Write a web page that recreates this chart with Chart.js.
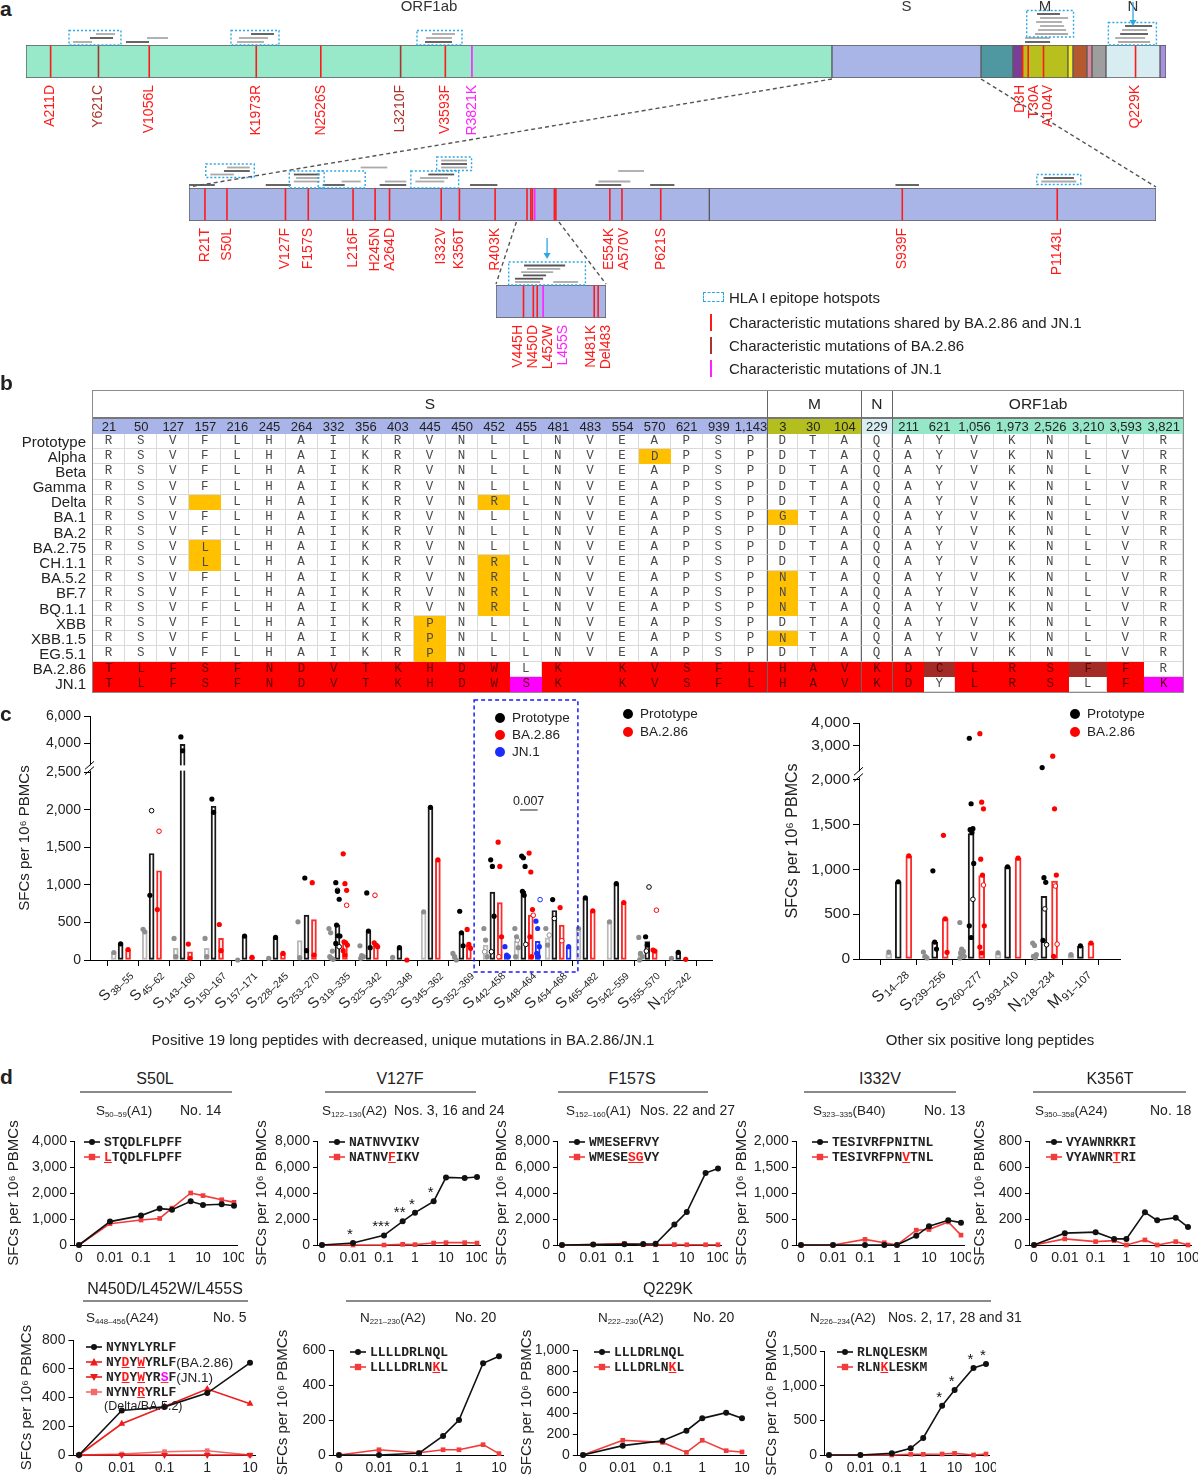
<!DOCTYPE html>
<html>
<head>
<meta charset="utf-8">
<script src="https://cdn.jsdelivr.net/npm/chart.js@4.4.1/dist/chart.umd.min.js"></script>
<style>
html,body{margin:0;padding:0;background:#fff;}
body{width:1200px;height:1476px;position:relative;overflow:hidden;font-family:"Liberation Sans","DejaVu Sans",Arial,sans-serif;color:#222;}
canvas{position:absolute;}
.t{position:absolute;white-space:nowrap;line-height:1.1;}
.pl{font-weight:bold;font-size:21px;}
.mono{font-family:"Liberation Mono","DejaVu Sans Mono",monospace;font-weight:bold;}
sub{font-size:0.58em;vertical-align:-0.3em;line-height:0;}
.cell{box-sizing:border-box;display:flex;align-items:center;justify-content:center;border-right:1px solid #dadada;border-bottom:1px solid #dadada;overflow:hidden;}
</style>
</head>
<body>
<script>
// ======================= DATA =======================
// ---- Panel a : genome schematic ----
const genomeGenes = ['ORF1ab','S','ORF3a','E','M','ORF6','ORF7','ORF8a','ORF8','N','ORF10'];
const genomeStart = [0,6906,8183,8457,8534,8928,8971,9091,9134,9254,9717];
const genomeEnd   = [6906,8183,8457,8534,8928,8971,9091,9134,9254,9717,9768];
const geneAaLength = {ORF1ab:6906, M:222, N:419};
const labelledGenes = ['ORF1ab','S','M','N'];

const topMutGene  = ['ORF1ab','ORF1ab','ORF1ab','ORF1ab','ORF1ab','ORF1ab','ORF1ab','ORF1ab','M','M','M','N'];
const topMutPos   = [211,621,1056,1973,2526,3210,3593,3821,3,30,104,229];
const topMutName  = ['A211D','Y621C','V1056L','K1973R','N2526S','L3210F','V3593F','R3821K','D3H','T30A','A104V','Q229K'];
const topMutClass = ['shared','ba286','shared','shared','shared','ba286','shared','jn1','shared','shared','shared','shared'];

const topEpitopes = [
 [403,566,0,'g'],[548,746,1,'d'],[600,763,2,'g'],[857,1054,0,'d'],[1037,1217,1,'g'],
 [1808,2039,0,'g'],[1825,2074,1,'g'],[1928,2125,2,'d'],
 [3419,3650,0,'d'],[3428,3650,1,'g'],[3479,3676,2,'g'],
 [8560,8775,0,'d'],[8560,8775,1,'g'],
 [8646,8929,2,'g'],[8672,8912,3,'g'],[8689,8895,4,'g'],[8655,8877,5,'g'],[8689,8929,6,'g'],[8663,8860,7,'d'],
 [9357,9631,0,'g'],[9332,9589,1,'g'],[9375,9614,2,'d'],[9392,9606,3,'g'],[9417,9649,4,'d']
];
const topHotspots = [[394,788,0,2],[1782,2142,0,2],[3376,3710,0,2],[8600,8950,2,7],[9300,9660,0,4]];

const spikeDomainStart = [0,685];
const spikeDomainEnd   = [685,1273];
const spikeMutPos   = [21,50,127,157,216,245,264,332,356,403,445,450,452,455,481,483,554,570,621,939,1143];
const spikeMutName  = ['R21T','S50L','V127F','F157S','L216F','H245N','A264D','I332V','K356T','R403K','V445H','N450D','L452W','L455S','N481K','Del483','E554K','A570V','P621S','S939F','P1143L'];
const spikeMutClass = ['shared','shared','shared','shared','shared','shared','shared','shared','shared','shared','shared','shared','shared','jn1','shared','shared','shared','shared','shared','shared','shared'];
const rbdWindow = [431,487];
const spikeEpitopes = [
 [0,34,0,'d'],[28,59,3,'g'],[46,80,4,'d'],[50,80,5,'g'],[101,134,0,'d'],
 [138,172,1,'g'],[141,172,2,'g'],[138,172,3,'d'],[176,205,0,'d'],[201,226,1,'g'],[226,261,5,'g'],
 [251,286,0,'d'],[258,286,1,'g'],[298,336,1,'g'],[304,341,2,'g'],[315,349,3,'d'],
 [332,366,5,'g'],[332,366,6,'d'],[332,366,7,'g'],[370,406,0,'d'],
 [535,569,0,'d'],[539,581,1,'g'],[565,599,4,'g'],[607,639,0,'d'],[930,961,0,'d'],
 [1122,1168,1,'g'],[1125,1165,2,'d']
];
const spikeHotspots = [[26,82,3,5],[136,174,0,3],[174,228,0,3],[296,351,0,3],[330,368,5,7],[1120,1170,1,2]];
const rbdEpitopes = [[440.7,453.4,0,'g'],[460.1,472.8,0,'g'],[440.7,455,1,'d'],[444.8,456.5,2,'d'],[443.8,460.1,3,'g'],[446.8,463.7,4,'g'],[445.3,466.2,5,'d']];
const rbdHotspots = [[439,475,0,5]];

// ---- Panel b : residue table ----
const tablePosS = [21,50,127,157,216,245,264,332,356,403,445,450,452,455,481,483,554,570,621,939,1143];
const tablePosM = [3,30,104];
const tablePosN = [229];
const tablePosORF1ab = [211,621,1056,1973,2526,3210,3593,3821];
const variantNames = ['Prototype','Alpha','Beta','Gamma','Delta','BA.1','BA.2','BA.2.75','CH.1.1','BA.5.2','BF.7','BQ.1.1','XBB','XBB.1.5','EG.5.1','BA.2.86','JN.1'];
const variantResidues = [
 'RSVFLHAIKRVNLLNVEAPSP DTA Q AYVKNLVR',
 'RSVFLHAIKRVNLLNVEDPSP DTA Q AYVKNLVR',
 'RSVFLHAIKRVNLLNVEAPSP DTA Q AYVKNLVR',
 'RSVFLHAIKRVNLLNVEAPSP DTA Q AYVKNLVR',
 'RSV-LHAIKRVNRLNVEAPSP DTA Q AYVKNLVR',
 'RSVFLHAIKRVNLLNVEAPSP GTA Q AYVKNLVR',
 'RSVFLHAIKRVNLLNVEAPSP DTA Q AYVKNLVR',
 'RSVLLHAIKRVNLLNVEAPSP DTA Q AYVKNLVR',
 'RSVLLHAIKRVNRLNVEAPSP DTA Q AYVKNLVR',
 'RSVFLHAIKRVNRLNVEAPSP NTA Q AYVKNLVR',
 'RSVFLHAIKRVNRLNVEAPSP NTA Q AYVKNLVR',
 'RSVFLHAIKRVNRLNVEAPSP NTA Q AYVKNLVR',
 'RSVFLHAIKRPNLLNVEAPSP DTA Q AYVKNLVR',
 'RSVFLHAIKRPNLLNVEAPSP NTA Q AYVKNLVR',
 'RSVFLHAIKRPNLLNVEAPSP DTA Q AYVKNLVR',
 'TLFSFNDVTKHDWLK-KVSFL HAV K DCLRSFFR',
 'TLFSFNDVTKHDWSK-KVSFL HAV K DYLRSLFK'
];

// ---- Panel c : ELISpot long peptides ----
const cLeftPeptides = ['S38–55','S45–62','S143–160','S150–167','S157–171','S228–245','S253–270','S319–335','S325–342','S332–348','S345–362','S352–369','S442–458','S448–464','S454–468','S465–482','S542–559','S555–570','N225–242'];
const cLeftNegBar   = [100,380,155,155,0,20,260,50,40,10,640,40,200,250,295,420,510,90,20];
const cLeftNegDots  = [[100],[410,376],[288,44],[288,44],[0],[22],[509,31],[420,363,119,44,22,9],[190,57,44,22],[35],[642],[88,44,0],[420,265,44],[420,310,164,44],[420,199],[420],[509],[301,88,44,0],[22]];
const cLeftNegOpen  = [[],[],[],[],[],[],[],[],[],[],[],[],[110],[265],[332],[],[],[],[]];
const cLeftProtoBar = [215,1420,3900,2050,320,300,600,470,385,165,2035,365,905,915,660,825,1020,245,100];
const cLeftProtoDots= [[215],[863],[4450,3425],[2146,1969],[319],[301],[1093,124],[1031,916,810,465,323,319,221],[894,385,164],[164],[2035],[650,363,190],[1336,1248,584],[1385,1363,1248,916,863],[805],[827],[1018],[310,199],[102]];
const cLeftProtoOpen= [[],[1991],[],[],[],[],[],[929,177],[],[],[],[],[110],[208],[553],[],[],[973,119],[]];
const cLeftBA286Bar = [140,1190,110,290,35,90,540,240,220,0,1335,200,765,600,465,655,765,135,0];
const cLeftBA286Dots= [[140],[672],[212,22],[473,124],[35],[88],[1031,66],[1416,1018,929,243,230,199,124,66],[230,199,177],[0],[1336],[407,208,155],[1571,1248,310],[1425,1173,672,310,44],[699],[655],[765],[133,119],[9]];
const cLeftBA286Open= [[],[1717],[],[],[],[],[],[730],[863],[],[],[],[44],[597],[257],[],[],[664],[]];
const cLeftJN1Bar   = [null,null,null,null,null,null,null,null,null,null,null,null,66,250,177,null,null,null,null];
const cLeftJN1Dots  = [null,null,null,null,null,null,null,null,null,null,null,null,[177,66,44],[518,420,177,88,44],[177],null,null,null,null];
const cLeftJN1Open  = [null,null,null,null,null,null,null,null,null,null,null,null,[],[805],[],null,null,null,null];
const cLeftYTicks   = [0,500,1000,1500,2000,2500,4000,6000];
const cLeftPValue   = {group:13, text:'0.007', y:2000};

const cRightPeptides = ['S14–28','S239–256','S260–277','S393–410','N218–234','M91–107'];
const cRightNegBar   = [60,37,95,60,50,48];
const cRightNegDots  = [[78],[78,30,11],[407,111,85,67,48,30,11],[70],[178,152,48,30,11],[48]];
const cRightNegOpen  = [[],[],[],[],[],[]];
const cRightProtoBar = [862,185,1400,1029,700,140];
const cRightProtoDots= [[862],[984,189,111],[3333,1732,1454,1443,1410,1066,370,240],[1029],[2050,907,855,207],[147]];
const cRightProtoOpen= [[],[],[666],[],[559,159],[]];
const cRightBA286Bar = [1150,450,930,1125,870,178];
const cRightBA286Dots= [[1150],[1380,448,74],[3533,1750,1676,1114,936,370,133,67],[1125],[2550,1676,936,30],[178]];
const cRightBA286Open= [[],[],[825],[],[814,166],[]];
const cRightYTicks   = [0,500,1000,1500,2000,3000,4000];

// ---- Panel d : dose–response ----
const dConc9 = [0,0.01,0.1,0.4,1,4,10,40,100];
const dConc7 = [0,0.01,0.1,0.4,1,4,10];
const dConc5 = [0,0.01,0.1,1,10];
const dTicks6 = ['0','0.01','0.1','1','10','100'];
const dTicks5 = ['0','0.01','0.1','1','10'];
const d1Wt = [0,900,1130,1400,1360,1680,1540,1570,1510];
const d1Mut= [0,820,960,1020,1420,2000,1900,1740,1640];
const d2Wt = [0,150,740,1820,2490,3360,5200,5150,5230];
const d2Mut= [0,0,0,50,30,150,180,180,150];
const d2Stars = ['','*','***','**','*','*','','',''];
const d3Wt = [0,30,50,80,100,1570,2540,5530,5890];
const d3Mut= [0,30,110,20,20,30,20,20,20];
const d4Wt = [0,0,0,0,0,177,361,475,430];
const d4Mut= [0,0,108,44,0,285,298,443,190];
const d5Wt = [0,91,99,47,47,252,190,210,138];
const d5Mut= [0,47,26,34,0,39,0,26,0];
const d6Wt = [0,310,335,431,641];
const d6BA286 = [0,217,338,459,356];
const d6JN1 = [0,0,0,0,0];
const d6Delta = [0,7,23,30,0];
const d7Wt = [0,0,10,109,200,524,564];
const d7Mut= [0,30,13,30,30,59,8];
const d8Wt = [0,89,136,231,349,403,349];
const d8Mut= [0,140,120,25,140,41,29];
const d9Wt = [0,0,24,96,245,712,938,1255,1313];
const d9Mut= [0,0,0,10,10,14,24,0,14];
const d9Stars = ['','','','','','*','*','*','*'];
const dPeptides = [
 ['STQDLFLPFF','LTQDLFLPFF'],['NATNVVIKV','NATNVFIKV'],['WMESEFRVY','WMESESGVY'],
 ['TESIVRFPNITNL','TESIVRFPNVTNL'],['VYAWNRKRI','VYAWNRTRI'],
 ['NYNYLYRLF','NYDYWYRLF','NYDYWYRSF','NYNYRYRLF'],
 ['LLLLDRLNQL','LLLLDRLNKL'],['LLLDRLNQL','LLLDRLNKL'],['RLNQLESKM','RLNKLESKM']
];
const d6Suffix = ['','(BA.2.86)','(JN.1)',''];
const dTitles = ['S50L','V127F','F157S','I332V','K356T','N450D/L452W/L455S','Q229K'];
const dEpitopes = [['S','50–59','A1'],['S','122–130','A2'],['S','152–160','A1'],['S','323–335','B40'],['S','350–358','A24'],['S','448–456','A24'],['N','221–230','A2'],['N','222–230','A2'],['N','226–234','A2']];
const dDonors = ['No. 14','Nos. 3, 16 and 24','Nos. 22 and 27','No. 13','No. 18','No. 5','No. 20','No. 20','Nos. 2, 17, 28 and 31'];

// ======================= HELPERS =======================
const FONT = '"Liberation Sans","DejaVu Sans",Arial,sans-serif';
Chart.defaults.font.family = FONT;
Chart.defaults.font.size = 14;
Chart.defaults.color = '#222';
Chart.defaults.animation = false;
Chart.defaults.responsive = false;
Chart.defaults.maintainAspectRatio = false;
Chart.defaults.events = [];
Chart.defaults.plugins.legend.display = false;
Chart.defaults.plugins.tooltip.enabled = false;

function mkCanvas(l,t,w,h){const c=document.createElement('canvas');c.width=w;c.height=h;c.style.left=l+'px';c.style.top=t+'px';c.style.width=w+'px';c.style.height=h+'px';document.body.appendChild(c);return c;}
function txt(x,y,html,css,align){const d=document.createElement('div');d.className='t';d.innerHTML=html;if(css)d.style.cssText+=css;d.style.left=x+'px';d.style.top=y+'px';d.style.transform=align==='c'?'translate(-50%,-50%)':align==='r'?'translate(-100%,-50%)':'translate(0,-50%)';document.body.appendChild(d);return d;}
function box(x,y,w,h,css){const d=document.createElement('div');d.style.cssText='position:absolute;left:'+x+'px;top:'+y+'px;width:'+w+'px;height:'+h+'px;box-sizing:border-box;'+(css||'');document.body.appendChild(d);return d;}

const GENOME_COLORS = ['#97e9c9','#aab5e7','#4f98a1','#7b3d98','#b7c01d','#f3ee2c','#b55a2f','#d98aa0','#9e9e9e','#d7edf1','#a690e0'];
const MUT_COLOR = {shared:'#ff1a1a', ba286:'#a9362e', jn1:'#ff22ff'};
const HOT = '#2aa8e3';

function geneUnit(g,p){const i=genomeGenes.indexOf(g);const s=genomeStart[i];return s+p*(genomeEnd[i]-s)/geneAaLength[g];}
function spreadLabels(xs,gap){
  const order=xs.map((_,i)=>i).sort((a,b)=>xs[a]-xs[b]);
  const out=[];const clusters=[];let cur=null;let prev=-1e9;
  order.forEach(i=>{const x=xs[i];let p;if(x>=prev+gap){cur=[];clusters.push(cur);p=x;}else p=prev+gap;cur.push([i,p]);prev=p;});
  clusters.forEach(c=>{const lm=c.reduce((a,e)=>a+e[1],0)/c.length;const xm=c.reduce((a,e)=>a+xs[e[0]],0)/c.length;const sh=(xm-lm)/2;c.forEach(e=>out[e[0]]=e[1]+sh);});
  return out;
}
function drawEpitopes(ctx,xs,yBase,list,rowH,hots){
  ctx.save();ctx.lineWidth=1.8;
  list.forEach(([s,e,r,sh])=>{const y=yBase-3-r*rowH;ctx.strokeStyle=sh==='d'?'#555':'#aaa';ctx.beginPath();ctx.moveTo(xs.getPixelForValue(s),y);ctx.lineTo(xs.getPixelForValue(e),y);ctx.stroke();});
  ctx.setLineDash([2,2]);ctx.strokeStyle=HOT;ctx.lineWidth=1.4;
  hots.forEach(([s,e,r0,r1])=>{const x1=xs.getPixelForValue(s)-3,x2=xs.getPixelForValue(e)+3;const yT=yBase-3-r1*rowH-3.5,yB=yBase-3-r0*rowH+3;ctx.strokeRect(x1,yT,x2-x1,yB-yT);});
  ctx.restore();
}
function arrowDown(ctx,x,y1,y2,color){ctx.save();ctx.strokeStyle=color;ctx.fillStyle=color;ctx.lineWidth=1.3;ctx.beginPath();ctx.moveTo(x,y1);ctx.lineTo(x,y2-5);ctx.stroke();ctx.beginPath();ctx.moveTo(x-3.5,y2-6);ctx.lineTo(x+3.5,y2-6);ctx.lineTo(x,y2);ctx.closePath();ctx.fill();ctx.restore();}
function mutLines(ctx,xs,ca,cls){ctx.save();ctx.lineWidth=1.6;xs.forEach((px,i)=>{ctx.strokeStyle=MUT_COLOR[cls[i]];ctx.beginPath();ctx.moveTo(px,ca.top+0.5);ctx.lineTo(px,ca.bottom-0.5);ctx.stroke();});ctx.restore();}
function mutLabels(ctx,xs,y,names,cls,gap){const lx=spreadLabels(xs,gap);ctx.save();ctx.font='14px '+FONT;ctx.textAlign='right';ctx.textBaseline='middle';lx.forEach((px,i)=>{ctx.save();ctx.translate(px,y);ctx.rotate(-Math.PI/2);ctx.fillStyle=MUT_COLOR[cls[i]];ctx.fillText(names[i],0,0);ctx.restore();});ctx.restore();}
function connector(ctx,x1,y1,x2,y2){ctx.save();ctx.strokeStyle='#555';ctx.lineWidth=1.4;ctx.setLineDash([4,3]);ctx.beginPath();ctx.moveTo(x1,y1);ctx.lineTo(x2,y2);ctx.stroke();ctx.restore();}

// ======================= PANEL a =======================
txt(0,9,'a','','l').className='t pl';
const genomePlugin={id:'genome',afterDatasetsDraw(chart){
  const {ctx,chartArea:ca,scales:{x}}=chart;
  const xs=topMutPos.map((p,i)=>x.getPixelForValue(geneUnit(topMutGene[i],p)));
  mutLines(ctx,xs,ca,topMutClass);
  mutLabels(ctx,xs,ca.bottom+7,topMutName,topMutClass,14);
  ctx.save();ctx.font='15px '+FONT;ctx.fillStyle='#333';ctx.textAlign='center';ctx.textBaseline='middle';
  labelledGenes.forEach(g=>{const i=genomeGenes.indexOf(g);ctx.fillText(g,x.getPixelForValue((genomeStart[i]+genomeEnd[i])/2),ca.top-38);});
  ctx.restore();
  drawEpitopes(ctx,x,ca.top,topEpitopes,4,topHotspots);
  const ni=genomeGenes.indexOf('N');
  arrowDown(ctx,x.getPixelForValue((genomeStart[ni]+genomeEnd[ni])/2),ca.top-43,ca.top-19,HOT);
}};
const chartA1=new Chart(mkCanvas(0,0,1200,140),{type:'bar',
  data:{labels:['genome'],datasets:[{data:genomeGenes.map((g,i)=>({x:[genomeStart[i],genomeEnd[i]],y:'genome'})),backgroundColor:GENOME_COLORS,borderColor:'#5a5a5a',borderWidth:1,borderSkipped:false,barPercentage:1,categoryPercentage:1}]},
  options:{indexAxis:'y',layout:{padding:{left:26,right:34,top:45,bottom:62}},scales:{x:{type:'linear',min:genomeStart[0],max:genomeEnd[genomeEnd.length-1],display:false},y:{type:'category',display:false}}},
  plugins:[genomePlugin]});

const spikePlugin={id:'spike',afterDatasetsDraw(chart){
  const {ctx,chartArea:ca,scales:{x}}=chart;
  const xs=spikeMutPos.map(p=>x.getPixelForValue(p));
  mutLines(ctx,xs,ca,spikeMutClass);
  const keep=spikeMutPos.map((p,i)=>i).filter(i=>spikeMutPos[i]<rbdWindow[0]||spikeMutPos[i]>rbdWindow[1]);
  mutLabels(ctx,keep.map(i=>xs[i]),ca.bottom+7,keep.map(i=>spikeMutName[i]),keep.map(i=>spikeMutClass[i]),15);
  drawEpitopes(ctx,x,ca.top,spikeEpitopes,3.5,spikeHotspots);
  const si=genomeGenes.indexOf('S');const gx=chartA1.scales.x;
  connector(ctx,gx.getPixelForValue(genomeStart[si]),chartA1.chartArea.bottom+1,ca.left,ca.top-1);
  connector(ctx,gx.getPixelForValue(genomeEnd[si]),chartA1.chartArea.bottom+1,ca.right,ca.top-1);
}};
const chartA2=new Chart(mkCanvas(0,0,1200,300),{type:'bar',
  data:{labels:['S'],datasets:[{data:spikeDomainStart.map((s,i)=>({x:[s,spikeDomainEnd[i]],y:'S'})),backgroundColor:'#aab5e7',borderColor:'#5a5a5a',borderWidth:1,borderSkipped:false,barPercentage:1,categoryPercentage:1}]},
  options:{indexAxis:'y',layout:{padding:{left:189,right:44,top:188,bottom:79}},scales:{x:{type:'linear',min:0,max:spikeDomainEnd[1],display:false},y:{type:'category',display:false}}},
  plugins:[spikePlugin]});

const rbdPlugin={id:'rbd',afterDatasetsDraw(chart){
  const {ctx,chartArea:ca,scales:{x}}=chart;
  const idx=spikeMutPos.map((p,i)=>i).filter(i=>spikeMutPos[i]>=rbdWindow[0]&&spikeMutPos[i]<=rbdWindow[1]);
  const xs=idx.map(i=>x.getPixelForValue(spikeMutPos[i]));
  mutLines(ctx,xs,ca,idx.map(i=>spikeMutClass[i]));
  mutLabels(ctx,xs,ca.bottom+7,idx.map(i=>spikeMutName[i]),idx.map(i=>spikeMutClass[i]),15);
  drawEpitopes(ctx,x,ca.top,rbdEpitopes,3.3,rbdHotspots);
  const sx=chartA2.scales.x;
  connector(ctx,sx.getPixelForValue(rbdWindow[0]),chartA2.chartArea.bottom+1,ca.left,ca.top-1);
  connector(ctx,sx.getPixelForValue(rbdWindow[1]),chartA2.chartArea.bottom+1,ca.right,ca.top-1);
  arrowDown(ctx,x.getPixelForValue((rbdHotspots[0][0]+rbdHotspots[0][1])/2),ca.top-47,ca.top-26,HOT);
}};
const chartA3=new Chart(mkCanvas(0,0,1200,395),{type:'bar',
  data:{labels:['RBD'],datasets:[{data:[{x:[rbdWindow[0],rbdWindow[1]],y:'RBD'}],backgroundColor:'#aab5e7',borderColor:'#5a5a5a',borderWidth:1,borderSkipped:false,barPercentage:1,categoryPercentage:1}]},
  options:{indexAxis:'y',layout:{padding:{left:496,right:594,top:285,bottom:77}},scales:{x:{type:'linear',min:rbdWindow[0],max:rbdWindow[1],display:false},y:{type:'category',display:false}}},
  plugins:[rbdPlugin]});

// panel a legend
box(703,292,21,10,'border:1.5px dashed '+HOT+';');
txt(729,298,'HLA I epitope hotspots','font-size:15px;');
box(710,314,2,17,'background:'+MUT_COLOR.shared+';');
txt(729,323,'Characteristic mutations shared by BA.2.86 and JN.1','font-size:15px;');
box(710,337,2,17,'background:'+MUT_COLOR.ba286+';');
txt(729,346,'Characteristic mutations of BA.2.86','font-size:15px;');
box(710,360,2,17,'background:'+MUT_COLOR.jn1+';');
txt(729,369,'Characteristic mutations of JN.1','font-size:15px;');

// ======================= PANEL b =======================
txt(0,383,'b','','l').className='t pl';
(function(){
  const genesT=[['S',tablePosS],['M',tablePosM],['N',tablePosN],['ORF1ab',tablePosORF1ab]];
  const headColor={S:'#a9b4e8',M:'#b4be1e',N:'#d8eef2',ORF1ab:'#96e7c7'};
  const widthOf={S:[32.1],M:[30.6,31.4,31.8],N:[31.4],ORF1ab:[31.8,31.4,38.3,37.5,38.3,37.5,37.5,38.7]};
  const colGene=[],colPos=[],colW=[];
  genesT.forEach(([g,ps])=>ps.forEach((p,k)=>{colGene.push(g);colPos.push(p);colW.push(widthOf[g][Math.min(k,widthOf[g].length-1)]);}));
  const first=colGene.map((g,i)=>i===0||colGene[i-1]!==g);
  const res=variantResidues.map(s=>s.replace(/ /g,'').split(''));
  const proto=res[0];const iB=variantNames.indexOf('BA.2.86'),iJ=variantNames.indexOf('JN.1');
  function bg(r,c){const v=res[r][c];if(r===iB||r===iJ){if(v===proto[c])return '#fff';const o=res[r===iB?iJ:iB][c];if(v!==o)return r===iB?'#a32b25':'#ff00ff';return '#ff0000';}return v!==proto[c]?'#ffc000':'#fff';}
  const g=document.createElement('div');
  g.style.cssText='position:absolute;left:92px;top:390px;display:grid;grid-template-columns:'+colW.map(w=>w+'px').join(' ')+';grid-template-rows:28px 15px repeat('+res.length+',15.176px);border:1px solid #8c8c8c;';
  const sep='1.5px solid #666';
  genesT.forEach(([gn,ps],k)=>{const d=document.createElement('div');d.className='cell';d.style.gridColumn='span '+ps.length;d.style.fontSize='15.5px';d.style.borderBottom='2px solid #777';d.style.borderRight='none';if(k>0)d.style.borderLeft=sep;d.textContent=gn;g.appendChild(d);});
  colPos.forEach((p,c)=>{const d=document.createElement('div');d.className='cell';d.style.background=headColor[colGene[c]];d.style.fontSize='13px';d.style.borderRight='none';d.style.borderBottom='none';if(first[c]&&c>0)d.style.borderLeft=sep;d.textContent=p.toLocaleString('en-US');g.appendChild(d);});
  res.forEach((row,r)=>row.forEach((v,c)=>{const d=document.createElement('div');d.className='cell';const b=bg(r,c);d.style.background=b;d.style.fontFamily='"Liberation Mono","DejaVu Sans Mono",monospace';d.style.fontSize='12.5px';d.style.color=(b==='#fff'||b==='#ffc000')?'#4a4a4a':'#5a0000';if(first[c]&&c>0)d.style.borderLeft=sep;if(b!=='#fff'){d.style.borderRight='none';d.style.borderBottom='none';}d.textContent=v==='-'?'':v;g.appendChild(d);}));
  document.body.appendChild(g);
  variantNames.forEach((n,r)=>txt(86,391+28+15+15.176*(r+0.5),n,'font-size:15px;','r'));
})();

// ======================= PANEL c =======================
txt(0,714,'c','','l').className='t pl';
function makeBreak(B,gap,k){return v=>v<=B?v:B+gap+(v-B)*k;}
const tfL=makeBreak(2500,123,0.18), tfR=makeBreak(2000,123,0.255);
const cStyle={neg:{bar:'#b9b9b9',dot:'#8e8e8e'},proto:{bar:'#1a1a1a',dot:'#000'},ba286:{bar:'#ff2a2a',dot:'#ff0000'},jn1:{bar:'#2233ff',dot:'#1b2cff'}};
function jit(k,n){if(n<=1)return 0;return ((k%3)-1)*0.055+((Math.floor(k/3)%2)?0.025:0);}
function groupSets(bars,dots,opens,off,st,tf,barW,jw){
  const out=[];
  out.push({type:'bar',data:bars.map((v,i)=>v==null?null:{x:i+off,y:tf(v)}).filter(d=>d),backgroundColor:'rgba(255,255,255,0)',borderColor:st.bar,borderWidth:1.3,borderSkipped:false,barThickness:barW,grouped:false,order:3});
  const f=[],h=[];
  dots.forEach((arr,i)=>{if(!arr)return;const op=(opens[i]||[]);const n=arr.length+op.length;arr.forEach((v,k)=>f.push({x:i+off+jit(k,n)*jw,y:tf(v)}));op.forEach((v,k)=>h.push({x:i+off+jit(k+arr.length,n)*jw,y:tf(v)}));});
  out.push({type:'scatter',data:f,pointRadius:2.6,pointBackgroundColor:st.dot,pointBorderColor:st.dot,pointBorderWidth:0,order:1,clip:false});
  out.push({type:'scatter',data:h,pointRadius:2.3,pointBackgroundColor:'#fff',pointBorderColor:st.dot,pointBorderWidth:1,order:1,clip:false});
  return out;
}
function subLabels(chart,names,fMain,fSub,dx,dy){
  const {ctx,scales:{x},chartArea:ca}=chart;
  names.forEach((nm,i)=>{const m=nm.match(/^([A-Z])(.*)$/);const px=x.getPixelForValue(i);
    ctx.save();ctx.translate(px+dx,ca.bottom+dy);ctx.rotate(-Math.PI/4);ctx.fillStyle='#222';ctx.textBaseline='alphabetic';
    ctx.font=fMain;const w1=ctx.measureText(m[1]).width;ctx.font=fSub;const w2=ctx.measureText(m[2]).width;
    ctx.font=fMain;ctx.fillText(m[1],-w1-w2-1,5);ctx.font=fSub;ctx.fillText(m[2],-w2,8);ctx.restore();});
}
function breakMark(chart,tf,B){
  const {ctx,chartArea:ca,scales:{y}}=chart;
  const y1=y.getPixelForValue(B+25),y2=y.getPixelForValue(B+95);
  ctx.save();ctx.fillStyle='#fff';ctx.fillRect(ca.left-3,y2,ca.right-ca.left+3,y1-y2);
  ctx.strokeStyle='#000';ctx.lineWidth=1;
  [y1,y2].forEach(yy=>{ctx.beginPath();ctx.moveTo(ca.left-5,yy+4);ctx.lineTo(ca.left+4,yy-4);ctx.stroke();});
  ctx.restore();
}
function cScales(o){
  return {
    x:{type:'linear',min:o.xmin,max:o.xmax,afterBuildTicks:s=>{s.ticks=o.names.map((_,i)=>({value:i}));},afterFit:s=>{s.height=o.xh;s.paddingLeft=0;s.paddingRight=0;},
       ticks:{display:false},grid:{display:true,drawOnChartArea:false,drawTicks:true,tickLength:6,color:'#000'},border:{display:true,color:'#000',width:1}},
    y:{type:'linear',min:0,max:o.tf(o.ticks[o.ticks.length-1]),afterBuildTicks:s=>{s.ticks=o.ticks.map(v=>({value:o.tf(v)}));},afterFit:s=>{s.width=o.yw;s.paddingTop=0;s.paddingBottom=0;},
       ticks:{callback:(v,i)=>o.ticks[i].toLocaleString('en-US'),font:{size:o.fs},color:'#222',autoSkip:false,padding:3},
       title:{display:true,text:'SFCs per 10⁶ PBMCs',font:{size:o.ts},color:'#222',padding:{top:o.tp,bottom:0}},
       grid:{drawOnChartArea:false,drawTicks:true,tickLength:6,color:'#000'},border:{display:true,color:'#000',width:1}}
  };
}
const offL={neg:-0.31,proto:-0.09,ba286:0.15,jn1:0.37};
const cLeftSets=[].concat(
  groupSets(cLeftNegBar,cLeftNegDots,cLeftNegOpen,offL.neg,cStyle.neg,tfL,5,1),
  groupSets(cLeftProtoBar,cLeftProtoDots,cLeftProtoOpen,offL.proto,cStyle.proto,tfL,5,1),
  groupSets(cLeftBA286Bar,cLeftBA286Dots,cLeftBA286Open,offL.ba286,cStyle.ba286,tfL,5,1),
  groupSets(cLeftJN1Bar,cLeftJN1Dots,cLeftJN1Open,offL.jn1,cStyle.jn1,tfL,5,1));
const cLeftPlugin={id:'cl',afterDatasetsDraw(chart){
  const {ctx,chartArea:ca,scales:{x,y}}=chart;
  breakMark(chart,tfL,2500);
  subLabels(chart,cLeftPeptides,'15px '+FONT,'10px '+FONT,5,11);
  ctx.save();ctx.strokeStyle='#1a1aff';ctx.lineWidth=1.5;ctx.setLineDash([4,3]);
  const bx1=x.getPixelForValue(12-0.68),bx2=x.getPixelForValue(14+0.67);
  ctx.strokeRect(bx1,ca.top-16,bx2-bx1,ca.bottom+12-(ca.top-16));ctx.restore();
  const pv=cLeftPValue;const py=y.getPixelForValue(tfL(pv.y));
  ctx.save();ctx.strokeStyle='#222';ctx.lineWidth=1;ctx.beginPath();ctx.moveTo(x.getPixelForValue(pv.group-0.2),py);ctx.lineTo(x.getPixelForValue(pv.group+0.37),py);ctx.stroke();
  ctx.font='12.5px '+FONT;ctx.fillStyle='#222';ctx.textAlign='center';ctx.textBaseline='bottom';ctx.fillText(pv.text,x.getPixelForValue(pv.group+0.08),py-2);ctx.restore();
}};
new Chart(mkCanvas(0,690,730,335),{type:'bar',data:{datasets:cLeftSets},
  options:{layout:{padding:{left:0,right:18,top:26,bottom:0}},
    scales:cScales({xmin:-0.55,xmax:18.47,names:cLeftPeptides,xh:65,tf:tfL,ticks:cLeftYTicks,yw:90,fs:14,ts:15,tp:16})},
  plugins:[cLeftPlugin]});

const offR={neg:-0.26,proto:0,ba286:0.29};
const cRightSets=[].concat(
  groupSets(cRightNegBar,cRightNegDots,cRightNegOpen,offR.neg,cStyle.neg,tfR,6,0.9),
  groupSets(cRightProtoBar,cRightProtoDots,cRightProtoOpen,offR.proto,cStyle.proto,tfR,6,0.9),
  groupSets(cRightBA286Bar,cRightBA286Dots,cRightBA286Open,offR.ba286,cStyle.ba286,tfR,6,0.9));
const cRightPlugin={id:'cr',afterDatasetsDraw(chart){breakMark(chart,tfR,2000);subLabels(chart,cRightPeptides,'16px '+FONT,'11px '+FONT,6,11);}};
new Chart(mkCanvas(770,690,370,330),{type:'bar',data:{datasets:cRightSets},
  options:{layout:{padding:{left:0,right:20,top:33,bottom:0}},
    scales:cScales({xmin:-0.48,xmax:5.49,names:cRightPeptides,xh:61,tf:tfR,ticks:cRightYTicks,yw:89,fs:15.5,ts:16,tp:13})},
  plugins:[cRightPlugin]});

function dotLegend(x,y,color,label,fs){box(x-5,y-5,10,10,'border-radius:50%;background:'+color+';');txt(x+12,y,label,'font-size:'+fs+'px;');}
dotLegend(500,718,'#000','Prototype',13.5);dotLegend(500,735,'#ff0000','BA.2.86',13.5);dotLegend(500,752,'#1b2cff','JN.1',13.5);
dotLegend(628,714,'#000','Prototype',13.5);dotLegend(628,732,'#ff0000','BA.2.86',13.5);
dotLegend(1075,714,'#000','Prototype',13.5);dotLegend(1075,732,'#ff0000','BA.2.86',13.5);
txt(403,1040,'Positive 19 long peptides with decreased, unique mutations in BA.2.86/JN.1','font-size:15px;','c');
txt(990,1040,'Other six positive long peptides','font-size:15px;','c');

// ======================= PANEL d =======================
txt(0,1077,'d','','l').className='t pl';
const D_STYLES={wt:{color:'#111',point:'circle',r:3,rot:0},mut:{color:'#f23b3b',point:'rect',r:3.3,rot:0},ba286:{color:'#ee1d1d',point:'triangle',r:4,rot:0},jn1:{color:'#e81c1c',point:'triangle',r:4,rot:180},delta:{color:'#f46a6a',point:'rect',r:3.3,rot:0}};
function dChart(o,idx){
  const N=o.ticks.length-1;const unit=(o.xN-o.x0)/N;const xMin=-0.13,xMax=N+0.12;
  const areaL=o.x0+xMin*unit,areaR=o.x0+xMax*unit;
  const cl=Math.round(o.titleX-13),ct=o.yTop-45,h=(o.y0+32)-ct,w=Math.ceil(areaR-cl)+6;
  const cv=mkCanvas(cl,ct,w,h);const yW=areaL-cl,padR=w-(areaR-cl);
  const xp=c=>c===0?0:Math.log10(c)+3;
  const datasets=o.series.map(([key,vals])=>{const st=D_STYLES[key];return{type:'line',data:vals.map((v,i)=>({x:xp(o.conc[i]),y:v})),borderColor:st.color,backgroundColor:st.color,borderWidth:1.6,pointStyle:st.point,pointRadius:st.r,pointRotation:st.rot,pointBackgroundColor:st.color,pointBorderColor:st.color,pointBorderWidth:0,tension:0,clip:false};});
  const stars=o.stars;
  const plug={id:'stars'+idx,afterDatasetsDraw(chart){if(!stars)return;const meta=chart.getDatasetMeta(0);const ctx=chart.ctx;ctx.save();ctx.font='15px '+FONT;ctx.fillStyle='#111';ctx.textAlign='center';ctx.textBaseline='alphabetic';stars.forEach((s,i)=>{if(!s)return;const el=meta.data[i];ctx.fillText(s,el.x-3,el.y-4);});ctx.restore();}};
  return new Chart(cv,{type:'line',data:{datasets},
    options:{layout:{padding:{left:0,right:padR,top:45,bottom:0}},
      scales:{
        x:{type:'linear',min:xMin,max:xMax,afterBuildTicks:s=>{s.ticks=o.ticks.map((_,i)=>({value:i}));},afterFit:s=>{s.height=32;s.paddingLeft=0;s.paddingRight=0;},
           ticks:{callback:(v,i)=>o.ticks[i],font:{size:14},color:'#222',padding:5,maxRotation:0,autoSkip:false},
           grid:{display:true,drawOnChartArea:false,drawTicks:false,color:'#000'},border:{display:true,color:'#000',width:1}},
        y:{type:'linear',min:0,max:o.yMax,ticks:{stepSize:o.yStep,font:{size:14},color:'#222',padding:3},afterFit:s=>{s.width=yW;s.paddingTop=0;s.paddingBottom=0;},
           title:{display:true,text:'SFCs per 10⁶ PBMCs',font:{size:15},color:'#222',padding:{top:4,bottom:0}},
           grid:{drawOnChartArea:false,drawTicks:true,tickLength:5,color:'#000'},border:{display:true,color:'#000',width:1}}
      }},
    plugins:[plug]});
}
const dLayout=[
 {x0:79,xN:234,y0:1245,yTop:1141,titleX:14,yMax:4000,yStep:1000,ticks:dTicks6,conc:dConc9,series:[['wt',d1Wt],['mut',d1Mut]]},
 {x0:322,xN:477,y0:1245,yTop:1141,titleX:262,yMax:8000,yStep:2000,ticks:dTicks6,conc:dConc9,series:[['wt',d2Wt],['mut',d2Mut]],stars:d2Stars},
 {x0:562,xN:718,y0:1245,yTop:1141,titleX:502,yMax:8000,yStep:2000,ticks:dTicks6,conc:dConc9,series:[['wt',d3Wt],['mut',d3Mut]]},
 {x0:801,xN:961,y0:1245,yTop:1141,titleX:742,yMax:2000,yStep:500,ticks:dTicks6,conc:dConc9,series:[['wt',d4Wt],['mut',d4Mut]]},
 {x0:1034,xN:1188,y0:1245,yTop:1141,titleX:980,yMax:800,yStep:200,ticks:dTicks6,conc:dConc9,series:[['wt',d5Wt],['mut',d5Mut]]},
 {x0:79,xN:250,y0:1455,yTop:1340,titleX:27,yMax:800,yStep:200,ticks:dTicks5,conc:dConc5,series:[['wt',d6Wt],['ba286',d6BA286],['jn1',d6JN1],['delta',d6Delta]]},
 {x0:339,xN:499,y0:1455,yTop:1350,titleX:283,yMax:600,yStep:200,ticks:dTicks5,conc:dConc7,series:[['wt',d7Wt],['mut',d7Mut]]},
 {x0:583,xN:742,y0:1455,yTop:1350,titleX:527,yMax:1000,yStep:200,ticks:dTicks5,conc:dConc7,series:[['wt',d8Wt],['mut',d8Mut]]},
 {x0:829,xN:986,y0:1455,yTop:1351,titleX:772,yMax:1500,yStep:500,ticks:dTicks6,conc:dConc9,series:[['wt',d9Wt],['mut',d9Mut]],stars:d9Stars}
];
dLayout.forEach((o,i)=>dChart(o,i));

// headers
const dTitlePos=[[155,80,232,1079,1091],[400,325,476,1079,1091],[632,558,708,1079,1091],[880,804,956,1079,1091],[1110,1033,1186,1079,1091],[165,83,248,1289,1300],[668,346,991,1289,1300]];
dTitles.forEach((t,i)=>{const p=dTitlePos[i];txt(p[0],p[3],t,'font-size:16px;','c');box(p[1],p[4],p[2]-p[1],2,'background:#8a8a8a;');});
const dSubPos=[[96,180,1111],[322,394,1111],[566,640,1111],[813,924,1111],[1035,1150,1111],[86,213,1318],[360,455,1318],[598,693,1318],[810,888,1318]];
dEpitopes.forEach((e,i)=>{const p=dSubPos[i];txt(p[0],p[2],e[0]+'<sub>'+e[1]+'</sub>('+e[2]+')','font-size:13.5px;');txt(p[1],p[2],dDonors[i],'font-size:14px;');});

// legends
function markerSVG(key){const st=D_STYLES[key];const c=st.color;let m='';
  if(st.point==='circle')m='<circle cx="8" cy="6" r="3" fill="'+c+'"/>';
  else if(st.point==='rect')m='<rect x="4.8" y="2.8" width="6.4" height="6.4" fill="'+c+'"/>';
  else if(st.rot===180)m='<polygon points="4,3 12,3 8,10" fill="'+c+'"/>';
  else m='<polygon points="4,9.5 12,9.5 8,2" fill="'+c+'"/>';
  return '<svg width="16" height="12" style="flex:none;margin-right:4px"><line x1="0" y1="6" x2="16" y2="6" stroke="'+c+'" stroke-width="1.6"/>'+m+'</svg>';}
function seqHTML(seq,ref,ref2){return seq.split('').map((ch,k)=>{if(ref2&&ch!==ref2[k]&&ch!==ref[k])return '<span style="color:#ff00ff;text-decoration:underline;text-decoration-color:#ff3333">'+ch+'</span>';if(ch!==ref[k])return '<span style="color:#ff1a1a;text-decoration:underline">'+ch+'</span>';return ch;}).join('');}
const dLegendPos=[[84,1142],[329,1142],[569,1142],[812,1142],[1046,1142],[86,1347],[350,1352],[594,1352],[837,1352]];
const dLegendKeys=[['wt','mut'],['wt','mut'],['wt','mut'],['wt','mut'],['wt','mut'],['wt','ba286','jn1','delta'],['wt','mut'],['wt','mut'],['wt','mut']];
dPeptides.forEach((peps,i)=>{const [lx,ly]=dLegendPos[i];
  peps.forEach((s,r)=>{const d=document.createElement('div');d.style.cssText='position:absolute;display:flex;align-items:center;height:14px;white-space:nowrap;left:'+lx+'px;top:'+(ly+r*15-7)+'px;';
    const key=dLegendKeys[i][r];const ref2=(i===5&&r===2)?peps[1]:null;
    d.innerHTML=markerSVG(key)+'<span class="mono" style="font-size:13px;">'+seqHTML(s,peps[0],ref2)+'</span>'+(i===5&&d6Suffix[r]?'<span style="font-size:13.5px;">'+d6Suffix[r]+'</span>':'');
    document.body.appendChild(d);});
});
txt(104,1407,'(Delta/BA.5.2)','font-size:12.5px;');
</script>
</body>
</html>
